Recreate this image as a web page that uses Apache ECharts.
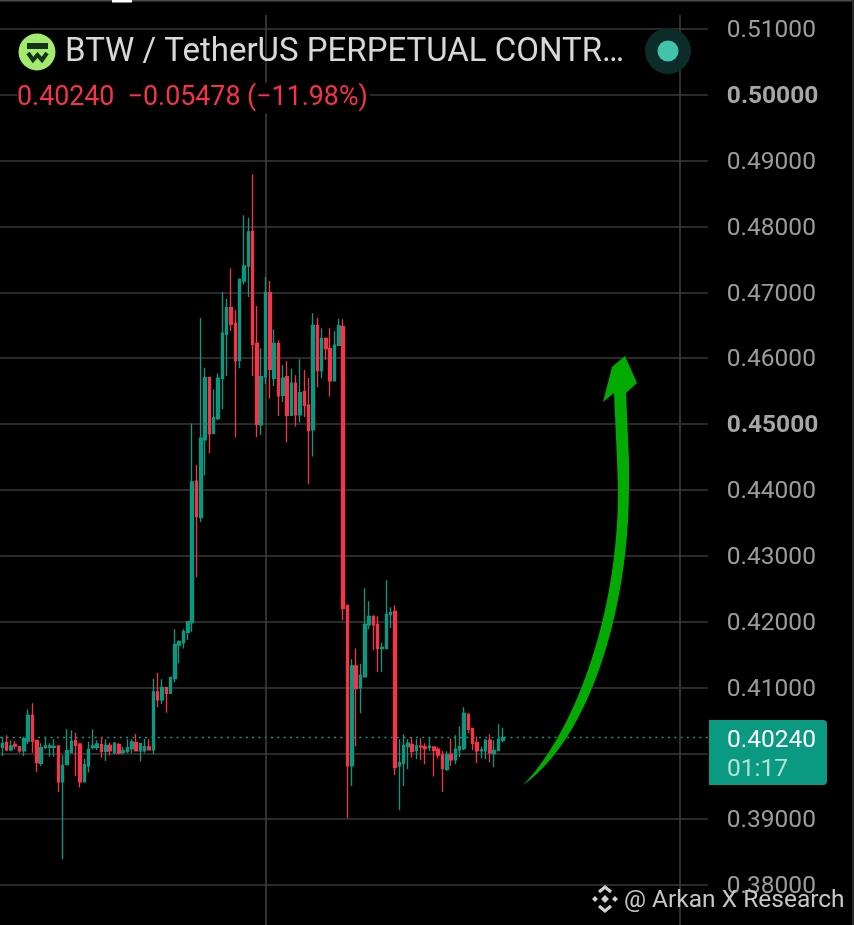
<!DOCTYPE html>
<html>
<head>
<meta charset="utf-8">
<style>html,body{margin:0;padding:0;background:#000;}#c{width:854px;height:925px;}</style>
<script src="https://cdn.jsdelivr.net/npm/echarts@6/dist/echarts.min.js"></script>
</head>
<body>
<div id="c"></div>
<script>
const titleText = "BTW / TetherUS PERPETUAL CONTR…";
const changeText = "0.40240  −0.05478 (−11.98%)";
const lastPrice = 0.4024;
const countdown = "01:17";
const watermark = "@ Arkan X Research";
const boldTicks = ["0.50000", "0.45000"];
const crosshairSlots = [61, 157];
const slotCount = 164;

const opens = [.40091,.40162,.40051,.40137,.40101,.40036,.40187,.40577,.40197,.39848,.40091,.40091,.40091,.40111,.39565,.39828,.40010,.40197,.40142,.39565,
.39808,.40086,.40091,.40132,.40030,.40122,.40010,.40137,.40010,.40030,.40071,.40162,.40036,.40036,.40096,.40051,.40931,.40810,.40997,.40911,
.41134,.41645,.41681,.41838,.41985,.44135,.43579,.44759,.45706,.44861,.45083,.45696,.46363,.46768,.46530,.45969,.47173,.47401,.47927,.46227,
.44987,.45716,.46996,.45696,.46227,.45438,.45721,.45134,.45620,.45139,.45493,.45286,.44911,.46500,.45812,.46303,.46146,.45655,.46197,.46480,
.42248,.39809,.41327,.40993,.41160,.41949,.42081,.41959,.41590,.41590,.42106,.42156,.39809,.39849,.40102,.40137,.40041,.40107,.40097,.40087,
.40097,.40062,.39976,.39758,.39986,.39900,.40051,.40072,.40593,.40380,.40163,.40036,.40036,.40198,.39996,.40041,.40198];
const closes = [.40152,.40051,.40111,.40111,.40036,.40223,.40577,.40187,.39858,.40086,.40111,.40111,.40106,.39565,.39818,.40041,.40182,.40122,.39565,.39828,
.40061,.40111,.40142,.40030,.40122,.40036,.40152,.40000,.40041,.40086,.40172,.40036,.40147,.40101,.40051,.40931,.40810,.40997,.40911,.41154,
.41655,.41696,.41848,.42000,.44120,.43595,.44788,.45706,.44851,.45098,.45696,.46379,.46768,.46520,.45959,.47198,.47401,.47917,.46212,.44997,
.45721,.46996,.45832,.46227,.45427,.45696,.45134,.45620,.45139,.45478,.45286,.44901,.46500,.45812,.46303,.46146,.45655,.46197,.46490,.42202,
.39809,.41327,.40983,.41185,.41959,.42081,.41949,.41590,.41610,.42111,.42141,.39783,.39859,.40122,.40153,.40031,.40112,.40097,.40072,.40107,
.40046,.39971,.39773,.39976,.39900,.40062,.40102,.40608,.40365,.40153,.40036,.40051,.40198,.40006,.40046,.40213,.40240];
const lows = [.39960,.40030,.40030,.40061,.40010,.39960,.40137,.40010,.39717,.39808,.40061,.39949,.39949,.39413,.38391,.39818,.40000,.39656,.39479,.39565,
.39707,.40061,.40051,.39934,.39884,.39970,.39985,.39985,.39985,.40000,.40000,.40030,.39879,.40010,.40041,.39985,.40703,.40744,.40617,.40906,
.41078,.41367,.41590,.41721,.41848,.42677,.43513,.44223,.44557,.44846,.45063,.45225,.45731,.46414,.44795,.45847,.47122,.46930,.45731,.44805,
.44835,.45610,.45387,.45579,.45124,.45336,.44719,.45124,.44962,.45023,.45109,.44086,.44506,.45564,.45696,.45974,.45417,.45655,.46186,.42020,
.39014,.39505,.40102,.40608,.41160,.41883,.41564,.41236,.41236,.41580,.41898,.39667,.39136,.39505,.39758,.39935,.39910,.39900,.39834,.40036,
.39647,.39925,.39414,.39733,.39809,.39834,.39945,.40046,.40304,.40046,.39849,.39925,.39910,.39864,.39788,.40031,.40163];
const highs = [.40253,.40273,.40197,.40187,.40111,.40253,.40668,.40759,.40197,.40152,.40253,.40152,.40213,.40111,.39970,.40364,.40349,.40314,.40152,.39919,
.40177,.40364,.40197,.40238,.40213,.40162,.40177,.40152,.40101,.40213,.40213,.40294,.40147,.40223,.40213,.41134,.41225,.41123,.40997,.41154,
.41883,.41716,.41883,.42009,.45007,.44384,.46610,.45857,.45721,.45529,.45771,.47006,.46905,.47365,.46728,.47209,.48170,.48134,.48792,.46794,
.46151,.47234,.47173,.46439,.46272,.45893,.45954,.45842,.45741,.45984,.45822,.45701,.46682,.46616,.46455,.46313,.46455,.46409,.46601,.46591,
.42248,.41428,.41590,.41362,.42506,.42308,.42096,.42081,.41681,.42627,.42217,.42248,.40213,.40284,.40213,.40244,.40213,.40229,.40153,.40239,
.40107,.40092,.40036,.40031,.40224,.40274,.40406,.40699,.40593,.40390,.40254,.40102,.40213,.40289,.40198,.40441,.40390];

const slots = Array.from({length: slotCount}, (_, i) => String(i));
const candles = opens.map((o, i) => [o, closes[i], lows[i], highs[i]]);

function cubic(p0, p1, p2, p3, n) {
  const out = [];
  for (let k = 0; k <= n; k++) {
    const t = k / n, u = 1 - t;
    out.push([
      u*u*u*p0[0] + 3*u*u*t*p1[0] + 3*u*t*t*p2[0] + t*t*t*p3[0],
      u*u*u*p0[1] + 3*u*u*t*p1[1] + 3*u*t*t*p2[1] + t*t*t*p3[1]
    ]);
  }
  return out;
}
const arrowOutline = [].concat(
  cubic([523, 785], [585, 742], [628, 620], [629, 490], 40),
  [[629, 460], [626, 393], [637, 383], [625, 356], [612, 367], [603, 402], [614, 393], [617, 460]],
  cubic([618, 490], [618, 620], [572, 735], [523, 785], 40)
);

const UP = "#089981", DOWN = "#f7334a", GRID = "#383838", VLINE = "#404040";
const chart = echarts.init(document.getElementById("c"), null, {renderer: "canvas", width: 854, height: 925});

chart.setOption({
  animation: false,
  backgroundColor: "#000",
  grid: {left: 0.14, top: -36.85, width: 707.68, height: 987.7, containLabel: false, outerBoundsMode: "none"},
  xAxis: {type: "category", data: slots, boundaryGap: true, axisLine: {show: false}, axisTick: {show: false}, axisLabel: {show: false}, splitLine: {show: false}},
  yAxis: {
    type: "value", position: "right", min: 0.37, max: 0.52, interval: 0.01, scale: true,
    axisLine: {show: false}, axisTick: {show: false},
    splitLine: {show: true, lineStyle: {color: GRID, width: 1.5}},
    axisLabel: {
      show: true, margin: 19, showMinLabel: false, showMaxLabel: false, padding: [4, 0, 0, 0],
      fontFamily: "Roboto", fontSize: 24.5, color: "#9c9c9c",
      formatter: v => { const s = v.toFixed(5); return boldTicks.includes(s) ? "{b|" + s + "}" : s; },
      rich: {b: {fontFamily: "Roboto", fontSize: 24.5, fontWeight: "bold", color: "#a6a6a6"}}
    }
  },
  series: [{
    type: "candlestick",
    data: candles,
    barWidth: 3,
    itemStyle: {color: UP, color0: DOWN, borderColor: UP, borderColor0: DOWN, borderWidth: 1.3},
    markLine: {
      silent: true, symbol: "none", z: 1, precision: 5, animation: false, label: {show: false},
      data: [
        {yAxis: lastPrice, lineStyle: {color: "#0b9c84", type: [2, 4.3], width: 1.4}},
        [{xAxis: crosshairSlots[0], yAxis: 0.51213, lineStyle: {color: VLINE, type: "solid", width: 1.5}}, {xAxis: crosshairSlots[0], yAxis: 0.37393}],
        [{xAxis: crosshairSlots[1], yAxis: 0.51213, lineStyle: {color: VLINE, type: "solid", width: 1.5}}, {xAxis: crosshairSlots[1], yAxis: 0.37393}]
      ]
    }
  }],
  graphic: [
    {type: "rect", z: 50, shape: {x: 0, y: 0, width: 854, height: 1.5}, style: {fill: "#4a4a4a"}},
    {type: "rect", z: 51, shape: {x: 112, y: 0, width: 20, height: 2.5}, style: {fill: "#ffffff"}},
    {type: "rect", z: 50, shape: {x: 852, y: 0, width: 2, height: 925}, style: {fill: "#2b2b2b"}},
    {type: "circle", z: 50, shape: {cx: 37, cy: 52, r: 18.5}, style: {fill: "#a3ea6d"}},
    {type: "rect", z: 51, shape: {x: 27, y: 43, width: 21, height: 6}, style: {fill: "#12351a"}},
    {type: "polyline", z: 51, shape: {points: [[28, 53], [33, 60], [37.5, 55], [42, 60], [47, 53]]}, style: {fill: null, stroke: "#12351a", lineWidth: 4}},
    {type: "text", z: 50, x: 65, y: 53, style: {text: titleText, fontFamily: "Roboto", fontSize: 33, fill: "#d8d8d8", verticalAlign: "middle"}},
    {type: "text", z: 50, x: 17, y: 98, style: {text: changeText, fontFamily: "Roboto", fontSize: 26.8, fill: DOWN, verticalAlign: "middle", backgroundColor: "#000", padding: [2, 2, 2, 0]}},
    {type: "circle", z: 50, shape: {cx: 668, cy: 51, r: 23}, style: {fill: "#0b2c29"}},
    {type: "circle", z: 51, shape: {cx: 668, cy: 51, r: 10.5}, style: {fill: "#41c4a9"}},
    {type: "polygon", z: 40, shape: {points: arrowOutline}, style: {fill: "#02aa02"}},
    {type: "rect", z: 50, shape: {x: 709, y: 720, width: 118, height: 65, r: [0, 4, 4, 0]}, style: {fill: "#0a9a81"}},
    {type: "text", z: 51, x: 727, y: 741, style: {text: lastPrice.toFixed(5), fontFamily: "Roboto", fontSize: 24.5, fill: "#ffffff", verticalAlign: "middle"}},
    {type: "text", z: 51, x: 727, y: 770, style: {text: countdown, fontFamily: "Roboto", fontSize: 24.5, fill: "#b5e1d7", verticalAlign: "middle"}},
    {type: "polygon", z: 60, shape: {points: [[605, 895], [609, 899], [605, 903], [601, 899]]}, style: {fill: "#d0d0d0"}},
    {type: "polygon", z: 60, shape: {points: [[595, 896], [598, 899], [595, 902], [592, 899]]}, style: {fill: "#d0d0d0"}},
    {type: "polygon", z: 60, shape: {points: [[615, 896], [618, 899], [615, 902], [612, 899]]}, style: {fill: "#d0d0d0"}},
    {type: "polyline", z: 60, shape: {points: [[599, 892], [605, 887], [611, 892]]}, style: {fill: null, stroke: "#d0d0d0", lineWidth: 3.2}},
    {type: "polyline", z: 60, shape: {points: [[599, 906], [605, 911], [611, 906]]}, style: {fill: null, stroke: "#d0d0d0", lineWidth: 3.2}},
    {type: "text", z: 60, x: 624, y: 901, style: {text: watermark, fontFamily: "Roboto", fontSize: 24.5, fill: "#c6c6c6", verticalAlign: "middle"}}
  ]
});
</script>
</body>
</html>
